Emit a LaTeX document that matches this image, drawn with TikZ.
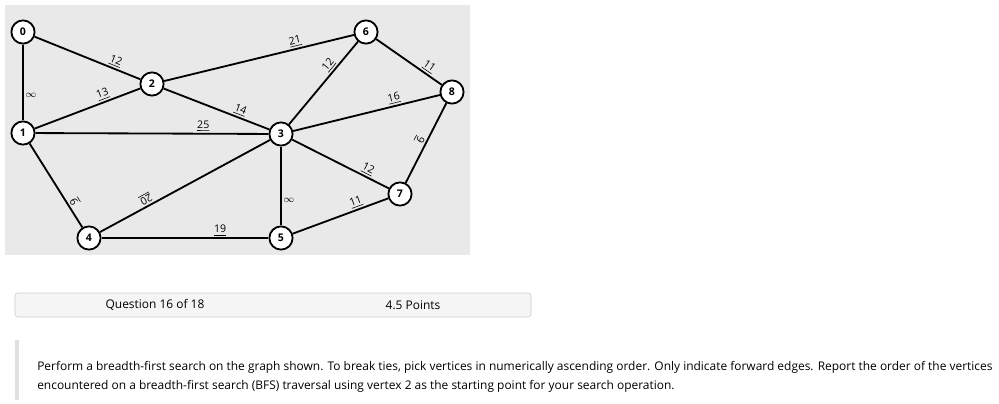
\documentclass[tikz,border=0pt]{standalone}
\usepackage{fontspec}
\setmainfont{Open Sans}
\usetikzlibrary{backgrounds}
\begin{document}
\begin{tikzpicture}[x=0.025cm,y=-0.025cm,
    vertex/.style={circle,draw,line width=1.3pt,fill=white,minimum size=0.58cm,inner sep=0pt,font=\bfseries\fontsize{7.5}{8}\selectfont},
    edge/.style={line width=1.3pt},
    wt/.style={pos=0.7,sloped,above,inner sep=1pt,font=\fontsize{7.5}{8}\selectfont},
    inf/.style={right,inner sep=1pt,font=\fontsize{7.5}{8}\selectfont}]
    \useasboundingbox (0,0) rectangle (999,403);

    \node[vertex] (n0) at (23,32) {0};
    \node[vertex] (n1) at (23,133) {1};
    \node[vertex] (n2) at (152,84) {2};
    \node[vertex] (n3) at (281,134) {3};
    \node[vertex] (n4) at (89,238) {4};
    \node[vertex] (n5) at (281,238) {5};
    \node[vertex] (n6) at (366,32) {6};
    \node[vertex] (n7) at (400,194) {7};
    \node[vertex] (n8) at (452,92) {8};

    \begin{pgfonlayer}{background}
    \fill[white] (0,0) rectangle (999,403);
    \fill[gray!17] (5,5) rectangle (470,255);
    \draw[edge] (n0) -- node[wt,pos=0.74] {\underline{12}} (n2);
    \draw[edge] (n0) -- node[inf,pos=0.67] {$\infty$} (n1);
    \draw[edge] (n1) -- node[wt,pos=0.67] {\underline{13}} (n2);
    \draw[edge] (n2) -- node[wt] {\underline{21}} (n6);
    \draw[edge] (n2) -- node[wt] {\underline{14}} (n3);
    \draw[edge] (n1) -- node[wt,pos=0.72] {\underline{25}} (n3);
    \draw[edge] (n3) -- node[wt,pos=0.66] {\underline{12}} (n6);
    \draw[edge] (n6) -- node[wt,pos=0.74] {\underline{11}} (n8);
    \draw[edge] (n3) -- node[wt] {\underline{16}} (n8);
    \draw[edge] (n8) -- node[wt,pos=0.5,rotate=180,below] {\underline{9}} (n7);
    \draw[edge] (n3) -- node[wt,pos=0.75] {\underline{12}} (n7);
    \draw[edge] (n1) -- node[wt,pos=0.74,rotate=180,below] {\underline{9}} (n4);
    \draw[edge] (n3) -- node[wt,pos=0.71,rotate=180,below] {\underline{20}} (n4);
    \draw[edge] (n4) -- node[wt,pos=0.71] {\underline{19}} (n5);
    \draw[edge] (n3) -- node[inf,pos=0.68] {$\infty$} (n5);
    \draw[edge] (n5) -- node[wt,pos=0.69] {\underline{11}} (n7);
    \end{pgfonlayer}

    % question bar
    \draw[gray!40,fill=gray!8,rounded corners=2pt] (15,293) rectangle (531,317);
    \node[font=\fontsize{8.5}{11}\selectfont] (qnum) at (155,305) {Question 16 of 18};
    \node[font=\fontsize{8.5}{11}\selectfont] (pts) at (413,305) {4.5 Points};

    % question text
    \fill[gray!25] (15,340) rectangle (19,400);
    \node[anchor=west,align=left,inner sep=0pt,font=\fontsize{8.5}{13.5}\selectfont] (qtext) at (37,377)
        {Perform a breadth-first search on the graph shown. To break ties, pick vertices in numerically ascending order. Only indicate forward edges. Report the order of the vertices\\
         encountered on a breadth-first search (BFS) traversal using vertex 2 as the starting point for your search operation.};
\end{tikzpicture}
\end{document}
